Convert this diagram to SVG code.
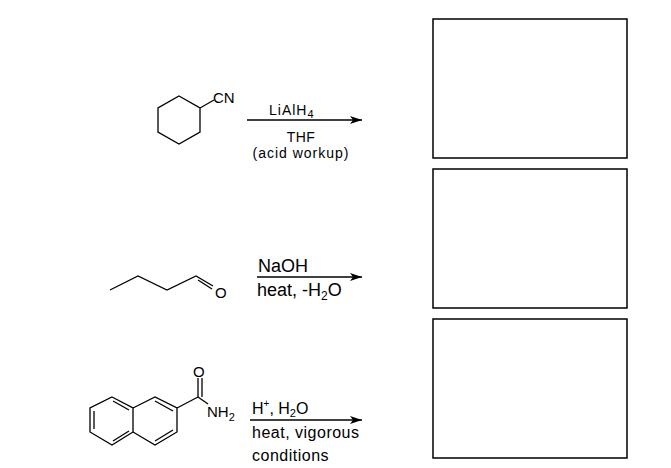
<svg xmlns="http://www.w3.org/2000/svg" width="671" height="468" viewBox="0 0 671 468">
<defs><marker id="ah" markerWidth="12" markerHeight="8" refX="12" refY="4" orient="auto" markerUnits="userSpaceOnUse"><path d="M0,0 L12,4 L0,8 L3,4 Z" fill="#000"/></marker></defs>
<style>
.b{fill:none;stroke:#000;stroke-width:1.3}
.t{font-family:"Liberation Sans",Arial,sans-serif;fill:#000}
.box{fill:#fff;stroke:#000;stroke-width:1.5}
</style>
<rect width="671" height="468" fill="#fff"/>
<g id="mol1">
<polygon class="b" points="179,96 200,108 200,132 179,144 158,132 158,108"/>
<line class="b" x1="200" y1="108" x2="214" y2="100"/>
<text class="t" x="213" y="103" font-size="15">CN</text>
</g>
<g id="mol2">
<polyline class="b" points="110,290 138,276 167,290 196,276 213,286"/>
<line class="b" x1="198" y1="280" x2="212" y2="289"/>
<text class="t" x="215" y="298" font-size="15">O</text>
</g>
<g id="mol3">
<polygon class="b" points="112,397 133,408 133,432 112,445 90,432 90,408"/>
<polyline class="b" points="133,408 155,397 177,408 177,432 155,445 133,432"/>
<line class="b" x1="94" y1="411" x2="94" y2="429"/>
<line class="b" x1="113" y1="401" x2="129" y2="410"/>
<line class="b" x1="113" y1="441" x2="129" y2="431"/>
<line class="b" x1="155" y1="401" x2="173" y2="411"/>
<line class="b" x1="155" y1="441" x2="173" y2="430"/>
<line class="b" x1="177" y1="408" x2="198" y2="397"/>
<line class="b" x1="198" y1="397" x2="198" y2="378"/>
<line class="b" x1="202" y1="397" x2="202" y2="378"/>
<line class="b" x1="198" y1="397" x2="208" y2="404"/>
<text class="t" x="193" y="377" font-size="15">O</text>
<text class="t" x="207" y="417" font-size="15">NH<tspan font-size="11" dy="4">2</tspan></text>
</g>
<g id="connectors">
<line class="b" x1="247" y1="120" x2="362" y2="120" marker-end="url(#ah)"/>
<line class="b" x1="257" y1="277" x2="362" y2="277" marker-end="url(#ah)"/>
<line class="b" x1="250" y1="420" x2="362" y2="420" marker-end="url(#ah)"/>
</g>
<g id="labels">
<text class="t" x="269" y="115" font-size="14" letter-spacing="1">LiAlH<tspan font-size="11" dy="3">4</tspan></text>
<text class="t" x="301" y="142" font-size="14" text-anchor="middle" letter-spacing="0.5">THF</text>
<text class="t" x="301" y="158" font-size="14" text-anchor="middle" letter-spacing="1">(acid workup)</text>
<text class="t" x="258" y="272" font-size="18">NaOH</text>
<text class="t" x="257" y="296" font-size="18">heat, -H<tspan font-size="12" dy="4">2</tspan><tspan dy="-4">O</tspan></text>
<text class="t" x="252" y="414" font-size="16">H<tspan font-size="10" dy="-7">+</tspan><tspan dy="7">, H</tspan><tspan font-size="11" dy="3">2</tspan><tspan dy="-3">O</tspan></text>
<text class="t" x="252" y="438" font-size="16" letter-spacing="0.5">heat, vigorous</text>
<text class="t" x="252" y="461" font-size="16" letter-spacing="0.5">conditions</text>
</g>
<g id="boxes">
<rect class="box" x="433" y="19" width="194" height="139"/>
<rect class="box" x="433" y="169" width="194" height="139"/>
<rect class="box" x="433" y="319" width="194" height="139"/>
</g>
</svg>
